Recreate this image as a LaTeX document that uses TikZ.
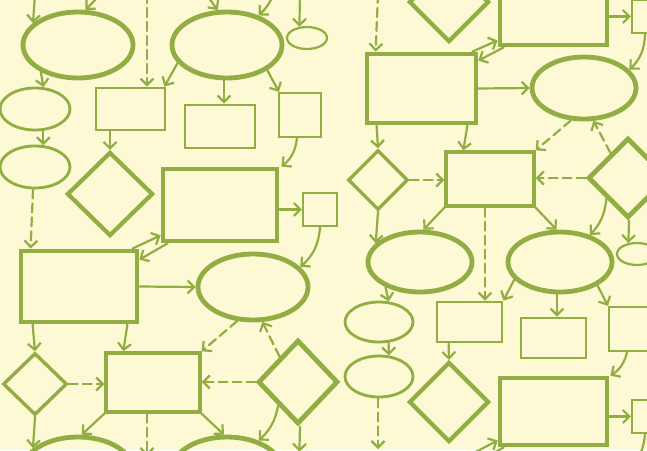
\documentclass[tikz,border=0pt]{standalone}
\usetikzlibrary{shapes.geometric,arrows.meta}
\definecolor{bgc}{RGB}{252,249,212}
\definecolor{grn}{RGB}{146,173,68}
\begin{document}
\begin{tikzpicture}[x=1pt,y=-1pt,
  thk/.style={line width=4.8pt},
  med/.style={line width=3.4pt},
  mth/.style={line width=2.8pt},
  thn/.style={line width=2.2pt},
  elp/.style={ellipse,draw=grn,inner sep=0pt},
  box/.style={rectangle,draw=grn,inner sep=0pt},
  dia/.style={diamond,draw=grn,inner sep=0pt},
  con/.style={draw=grn,line width=2.2pt,line cap=round,-{Straight Barb[length=6.5pt,width=13pt,line width=2.2pt]}},
  dcon/.style={con,dash pattern=on 9pt off 5pt}]
\useasboundingbox (0,0) rectangle (647,450);
\fill[bgc] (0,0) rectangle (647,450);
\clip (0,0) rectangle (647,450);
% ---- left tile nodes
\node[elp,thk,minimum width=110pt,minimum height=66pt] (A) at (78,45) {};
\node[elp,thk,minimum width=110pt,minimum height=66pt] (C) at (227,45) {};
\node[elp,thn,minimum width=40pt,minimum height=22pt] (D) at (307,38) {};
\node[elp,mth,minimum width=70pt,minimum height=42pt] (E) at (35,109) {};
\node[elp,mth,minimum width=70pt,minimum height=42pt] (F) at (35,167) {};
\node[box,mth,minimum width=69pt,minimum height=42pt] (B) at (130.5,109) {};
\node[box,mth,minimum width=70pt,minimum height=43pt] (H) at (220,126.5) {};
\node[box,thn,minimum width=42pt,minimum height=44pt] (I) at (300,115) {};
\node[dia,line width=4.2pt,minimum width=86pt,minimum height=84pt] (J) at (110,194) {};
\node[box,thk,minimum width=114pt,minimum height=72pt] (K) at (220,205) {};
\node[box,thn,minimum width=34pt,minimum height=33pt] (L) at (320,209.5) {};
\node[box,thk,minimum width=116pt,minimum height=71pt] (G) at (79,286.5) {};
\node[elp,thk,minimum width=110pt,minimum height=66pt] (M) at (253,287) {};
\node[dia,med,minimum width=64pt,minimum height=62pt] (O) at (35,384) {};
\node[box,med,minimum width=94pt,minimum height=59pt] (P) at (153,382.5) {};
\node[dia,thk,minimum width=80pt,minimum height=84pt] (Q) at (298,382) {};
\node[elp,thk,minimum width=110pt,minimum height=66pt] (A2) at (78,470) {};
\node[elp,thk,minimum width=110pt,minimum height=66pt] (C2) at (227,470) {};
\node[elp,thn,minimum width=40pt,minimum height=22pt] (D2) at (307,463) {};
% ---- right tile nodes
\node[dia,line width=4.2pt,minimum width=80pt,minimum height=80pt] (R) at (449,2) {};
\node[box,thk,minimum width=107pt,minimum height=67pt] (T) at (553.5,11.5) {};
\node[box,thn,minimum width=34pt,minimum height=33pt] (U) at (649,16.5) {};
\node[box,thk,minimum width=109pt,minimum height=69pt] (S) at (421.5,88.5) {};
\node[elp,thk,minimum width=104pt,minimum height=62pt] (V) at (584,88) {};
\node[dia,med,minimum width=60pt,minimum height=60pt] (W) at (378,180) {};
\node[box,med,minimum width=88pt,minimum height=54pt] (X) at (490,179) {};
\node[dia,thk,minimum width=80pt,minimum height=80pt] (Y) at (628,178) {};
\node[elp,thk,minimum width=104pt,minimum height=60pt] (Z) at (420,262) {};
\node[elp,thk,minimum width=104pt,minimum height=60pt] (AA) at (560,262) {};
\node[elp,thn,minimum width=40pt,minimum height=22pt] (AB) at (637,254) {};
\node[elp,mth,minimum width=68pt,minimum height=40pt] (AC) at (379,322) {};
\node[elp,mth,minimum width=68pt,minimum height=41pt] (AD) at (379,376.5) {};
\node[box,mth,minimum width=65pt,minimum height=40pt] (AE) at (469.5,322) {};
\node[box,mth,minimum width=65pt,minimum height=40pt] (AF) at (553.5,338) {};
\node[box,thn,minimum width=42pt,minimum height=44pt] (AG) at (630,329) {};
\node[dia,line width=4.2pt,minimum width=80pt,minimum height=80pt] (AH) at (449,402) {};
\node[box,thk,minimum width=107pt,minimum height=67pt] (AI) at (553.5,411.5) {};
\node[box,thn,minimum width=34pt,minimum height=33pt] (AJ) at (649,416.5) {};
% ---- free ends
\coordinate (t1) at (35,-6);
\coordinate (t2) at (101,-6);
\coordinate (t3) at (147,-6);
\coordinate (t4) at (206,-6);
\coordinate (t5) at (274,-6);
\coordinate (t6) at (300,-6);
\coordinate (t7) at (378,-6);
\coordinate (b1) at (147,456);
\coordinate (b2) at (378,449);
\coordinate (b3) at (470,455);
\coordinate (b4) at (476,463);
\coordinate (b5) at (627,470);
% ---- left tile connectors
\draw[con] (t1) -- (A.154);
\draw[con] (t2) -- (A.78);
\draw[con] (A.216) -- (E.69);
\draw[con] (E.291) -- (F.69);
\draw[dcon] ([xshift=-2pt]F.south) -- ([xshift=12pt]G.north west);
\draw[dcon] (t3) -- ([xshift=16.5pt]B.north);
\draw[con] (C.200) -- ([xshift=-2pt]B.north east);
\draw[con] ([xshift=-3pt]C.south) -- ([xshift=4pt]H.north);
\draw[con] (C.328) -- ([xshift=1pt]I.north west);
\draw[con] ([xshift=-20.5pt]B.south) -- (J.north);
\draw[con] ([xshift=-3pt]I.south) to[bend left=22] ([xshift=2pt]K.north east);
\draw[con] (K.east |- L.west) -- (L.west);
\draw[con] (L.south) to[bend left=22] (M.23);
\draw[con] (G.east) -- (M.west);
\draw[con] ([xshift=-7pt]G.north east) -- ([yshift=8pt]K.south west);
\draw[con] ([xshift=7pt]K.south west) -- ([yshift=-11pt]G.north east);
\draw[con] ([xshift=14pt]G.south west) -- (O.north);
\draw[con] ([xshift=-12pt]G.south east) -- ([xshift=19pt]P.north west);
\draw[dcon] (O.east) -- (O.east -| P.west);
\draw[dcon] (M.245) -- (P.north east);
\draw[dcon] (Q.126) -- (M.285);
\draw[dcon] (Q.west) -- (Q.west -| P.east);
\draw[con] (P.south west) -- (A2.84);
\draw[con] (P.south east) -- (C2.95);
\draw[dcon] ([xshift=-6pt]P.south) -- (b1);
\draw[con] (O.south) -- (A2.154);
\draw[con] (Q.230) to[bend left=18] (C2.43);
\draw[con] ([xshift=2pt]Q.south) -- (D2.124);
\draw[con] (t4) -- (C.105);
\draw[con] (t5) to[bend left=10] (C.43);
\draw[con] (t6) -- (D.124);
% ---- right tile connectors
\draw[dcon] (t7) -- ([xshift=11pt]S.north west);
\draw[con] ([xshift=-6pt]S.north east) -- ([yshift=7pt]T.south west);
\draw[con] ([xshift=6pt]T.south west) -- ([yshift=-9pt]S.north east);
\draw[con] (T.east |- U.west) -- (U.west);
\draw[con] ([xshift=-4pt]U.south) to[bend left=22] (V.22);
\draw[con] (S.east) -- (V.west);
\draw[con] ([xshift=12pt]S.south west) -- (W.north);
\draw[con] ([xshift=-11pt]S.south east) -- ([xshift=19pt]X.north west);
\draw[dcon] (W.east) -- (W.east -| X.west);
\draw[dcon] (V.248) -- (X.north east);
\draw[dcon] (Y.125) -- (V.286);
\draw[dcon] (Y.west) -- (Y.west -| X.east);
\draw[con] (X.south west) -- (Z.84);
\draw[con] (X.south east) -- (AA.96);
\draw[dcon] ([xshift=-5pt]X.south) -- ([xshift=15.5pt]AE.north);
\draw[con] (W.south) -- (Z.157);
\draw[con] (Y.224) to[bend left=18] (AA.42);
\draw[con] ([xshift=1pt]Y.south) -- (AB.128);
\draw[con] (Z.216) -- (AC.65);
\draw[con] (AC.295) -- (AD.65);
\draw[dcon] ([xshift=-1pt]AD.south) -- (b2);
\draw[con] (AA.201) -- (AE.north east);
\draw[con] ([xshift=-3pt]AA.south) -- ([xshift=3.5pt]AF.north);
\draw[con] (AA.328) -- (AG.north west);
\draw[con] ([xshift=13pt]AE.south west) -- (AH.north);
\draw[con] ([xshift=-3pt]AG.south) to[bend left=22] ([xshift=1pt]AI.north east);
\draw[con] (AI.east |- AJ.west) -- (AJ.west);
\draw[con] ([xshift=-4pt]AJ.south) to[bend left=22] (b5);
\draw[con] (b3) -- ([yshift=7pt]AI.south west);
\draw[con] ([xshift=6pt]AI.south west) -- (b4);
\end{tikzpicture}
\end{document}
